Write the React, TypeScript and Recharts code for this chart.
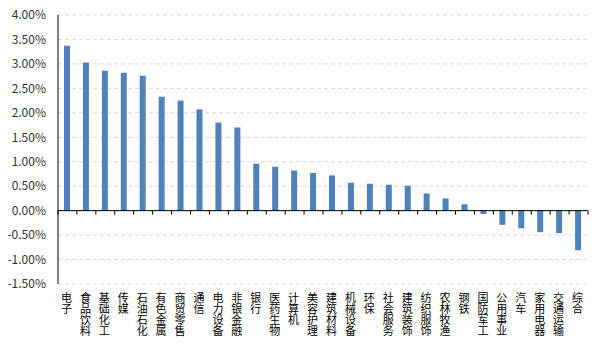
import React from "react";
import { BarChart, Bar, XAxis, YAxis, CartesianGrid, ReferenceLine } from "recharts";

const industries = [
  "电子", "食品饮料", "基础化工", "传媒", "石油石化", "有色金属", "商贸零售",
  "通信", "电力设备", "非银金融", "银行", "医药生物", "计算机", "美容护理",
  "建筑材料", "机械设备", "环保", "社会服务", "建筑装饰", "纺织服饰", "农林牧渔",
  "钢铁", "国防军工", "公用事业", "汽车", "家用电器", "交通运输", "综合",
];

// weekly change, in percent
const changes = [
  3.37, 3.03, 2.86, 2.82, 2.76, 2.33, 2.25,
  2.07, 1.8, 1.7, 0.96, 0.9, 0.82, 0.77,
  0.72, 0.57, 0.55, 0.53, 0.51, 0.35, 0.25,
  0.13, -0.07, -0.29, -0.36, -0.44, -0.46, -0.81,
];

const yTicks = [-1.5, -1, -0.5, 0, 0.5, 1, 1.5, 2, 2.5, 3, 3.5, 4];

const data = industries.map((name, i) => ({ name, value: changes[i] }));

const FONT = '"Noto Sans CJK SC", "Noto Sans", sans-serif';

// category names written top to bottom
const VerticalTick = (props: any) => {
  const { x, y, payload } = props;
  return (
    <text
      x={x - 1}
      y={y + 8}
      fontSize={11}
      fontFamily={FONT}
      fill="#000"
      style={{ writingMode: "vertical-rl", textOrientation: "upright" } as any}
    >
      {payload.value}
    </text>
  );
};

// zero line with tick marks at the category boundaries
const ZeroAxis = (props: any) => {
  const { x1, y1, x2 } = props;
  const n = industries.length;
  const step = (x2 - x1) / n;
  const marks = [];
  for (let i = 0; i <= n; i++) {
    const x = x1 + step * i;
    marks.push(<line key={i} x1={x} y1={y1} x2={x} y2={y1 + 4} stroke="#000" strokeWidth={1} />);
  }
  return (
    <g>
      <line x1={x1} y1={y1} x2={x2} y2={y1} stroke="#000" strokeWidth={1} />
      {marks}
    </g>
  );
};

const App = () => {
  return (
    <div style={{ position: "absolute", left: 0, top: 0, background: "#fff" }}>
      <BarChart
        width={604}
        height={356}
        data={data}
        margin={{ top: 15, right: 16, left: 0, bottom: 0 }}
        barSize={6}
      >
        <CartesianGrid vertical={false} stroke="#d9d9d9" strokeDasharray="4 3" />
        <XAxis
          dataKey="name"
          interval={0}
          axisLine={false}
          tickLine={false}
          tickSize={0}
          tickMargin={0}
          height={72}
          tick={<VerticalTick />}
        />
        <YAxis
          width={58}
          domain={[-1.5, 4]}
          ticks={yTicks}
          interval={0}
          allowDataOverflow
          axisLine={{ stroke: "#000" }}
          tickLine={false}
          tickFormatter={(v) => `${Number(v).toFixed(2)}%`}
          tick={{ fill: "#333", fontSize: 12, fontFamily: FONT }}
          tickMargin={6}
        />
        <Bar dataKey="value" fill="#4f81bd" isAnimationActive={false} />
        <ReferenceLine y={0} shape={<ZeroAxis />} />
      </BarChart>
    </div>
  );
};

export default App;
